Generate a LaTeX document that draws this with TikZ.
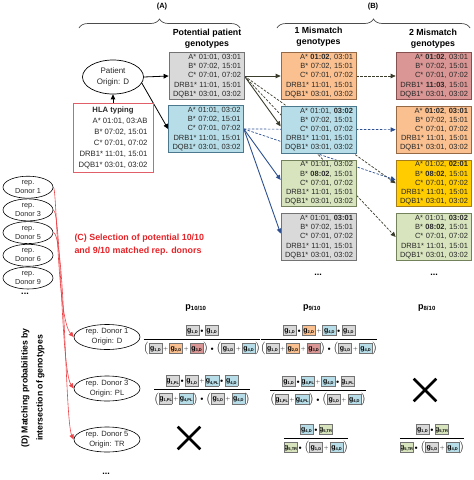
\documentclass[tikz,border=0pt]{standalone}
\usepackage{fontspec}
\setmainfont{Liberation Sans}
\usepackage{amsmath}
\usetikzlibrary{positioning, backgrounds, shapes.geometric, shapes.misc, arrows.meta, decorations.pathreplacing}

\definecolor{gfill}{RGB}{217,217,217}
\definecolor{gline}{RGB}{115,115,115}
\definecolor{ofill}{RGB}{250,192,143}
\definecolor{oline}{RGB}{150,105,70}
\definecolor{bfill}{RGB}{183,222,232}
\definecolor{bline}{RGB}{75,120,140}
\definecolor{nfill}{RGB}{215,228,189}
\definecolor{nline}{RGB}{115,130,90}
\definecolor{rfill}{RGB}{217,150,148}
\definecolor{rline}{RGB}{135,80,80}
\definecolor{yfill}{RGB}{255,204,0}
\definecolor{yline}{RGB}{165,125,25}
\definecolor{hlared}{RGB}{225,95,105}
\definecolor{selred}{RGB}{230,35,40}
\definecolor{darkarr}{RGB}{60,60,45}
\definecolor{bluearr}{RGB}{45,80,145}
\definecolor{txt}{RGB}{40,40,40}

\setlength{\fboxsep}{0.8pt}
\setlength{\fboxrule}{0.5pt}

\tikzset{
  genobox/.style={draw=#1line, fill=#1fill, line width=0.7pt, minimum width=75, minimum height=46,
    text width=69, align=right, inner sep=1.5pt, text=txt, font=\fontsize{7.5}{9.2}\selectfont},
  heading/.style={align=center, font=\bfseries\fontsize{8.8}{11}\selectfont},
  tag/.style={font=\bfseries\fontsize{7.5}{9}\selectfont},
  bracedraw/.style={decorate, decoration={brace, amplitude=9pt}, draw=black!70, line width=0.7pt},
  patient/.style={ellipse, draw, line width=0.7pt, minimum width=61, minimum height=34, inner sep=0pt,
    align=center, text=txt, font=\fontsize{8}{11}\selectfont},
  hlabox/.style={draw=hlared, line width=0.9pt, minimum width=80, minimum height=69, inner sep=0pt,
    text=txt, font=\fontsize{7.7}{11}\selectfont},
  donor/.style={ellipse, draw, line width=0.6pt, minimum width=50, minimum height=22, inner sep=0pt,
    align=center, text=txt, font=\fontsize{7.3}{9}\selectfont},
  repdonor/.style={ellipse, draw, line width=0.6pt, minimum width=66, minimum height=25, inner sep=0pt,
    align=center, text=txt, font=\fontsize{7.6}{10}\selectfont},
  seltext/.style={align=left, text=selred, font=\bfseries\fontsize{8.9}{13}\selectfont},
  dtext/.style={align=center, rotate=90, font=\bfseries\fontsize{8.7}{15}\selectfont},
  plabel/.style={font=\bfseries\fontsize{9}{10}\selectfont},
  formula/.style={anchor=base, inner sep=0pt, font=\fontsize{7}{8}\selectfont},
  crossmark/.style={cross out, draw, line width=2.6pt, minimum size=20pt, inner sep=0pt},
  moredots/.style={font=\bfseries\fontsize{9}{9}\selectfont},
  tip/.style={-{Triangle[length=5pt,width=4.5pt]}},
  darr/.style={tip, draw=darkarr, line width=0.9pt},
  dashdarr/.style={darr, line width=0.7pt, dash pattern=on 2.5pt off 1.5pt},
  barr/.style={tip, draw=bluearr, line width=0.9pt},
  dashbarr/.style={barr, line width=0.7pt, dash pattern=on 2.5pt off 1.5pt},
  redarr/.style={tip, draw=selred!85, line width=0.6pt}
}

\newcommand{\allel}[5]{A* #1\\B* #2\\C* #3\\DRB1* #4\\DQB1* #5}
\newcommand{\gb}[2]{\fcolorbox{gline}{#1}{\makebox[11pt]{\rule[-2.3pt]{0pt}{8.7pt}\bfseries g\raisebox{-1.2pt}{\fontsize{4}{4}\selectfont #2}}}}
\newcommand{\gplus}{\mskip2mu{\scriptstyle+}\mskip2mu}
\newcommand{\gdot}{\mskip2mu{\scriptstyle\bullet}\mskip2mu}
\newcommand{\gfrac}[2]{$\genfrac{}{}{0.9pt}{0}{#1}{#2}$}

\begin{document}
\begin{tikzpicture}[x=1pt, y=-1pt]
  \useasboundingbox (0,0) rectangle (474,480);

  % braces and column headings
  \draw[bracedraw] (79,28) -- (240,28);
  \draw[bracedraw] (277,28) -- (470,28);
  \node[tag] (labA) at (162,7) {(A)};
  \node[tag] (labB) at (373,7) {(B)};
  \node[heading] (hpat) at (207,38.5) {Potential patient\\genotypes};
  \node[heading] (hm1) at (318.5,37) {1 Mismatch\\genotypes};
  \node[heading] (hm2) at (433,38.5) {2 Mismatch\\genotypes};

  % patient and typing
  \node[patient] (pat) at (113,77) {Patient\\Origin: D};
  \node[hlabox] (hla) at (113,137.5) {\begin{tabular}{@{}r@{}}
      \multicolumn{1}{@{}c@{}}{\textbf{HLA typing}}\\
      A* 01:01, 03:AB\\ B* 07:02, 15:01\\ C* 07:01, 07:02\\
      DRB1* 11:01, 15:01\\ DQB1* 03:01, 03:02
    \end{tabular}};

  % potential patient genotypes
  \node[genobox=g] (pg1) at (206.5,76) {\allel{01:01, 03:01}{07:02, 15:01}{07:01, 07:02}{11:01, 15:01}{03:01, 03:02}};
  \node[genobox=b] (pb1) at (206,129) {\allel{01:01, 03:02}{07:02, 15:01}{07:01, 07:02}{11:01, 15:01}{03:01, 03:02}};

  % 1 mismatch
  \node[genobox=o] (m1o) at (318.5,76) {\allel{\textbf{01:02}, 03:01}{07:02, 15:01}{07:01, 07:02}{11:01, 15:01}{03:01, 03:02}};
  \node[genobox=b, below=6.5pt of m1o] (m1b) {\allel{01:01, \textbf{03:02}}{07:02, 15:01}{07:01, 07:02}{11:01, 15:01}{03:01, 03:02}};
  \node[genobox=n, below=6.5pt of m1b] (m1g) {\allel{01:01, 03:02}{\textbf{08:02}, 15:01}{07:01, 07:02}{11:01, 15:01}{03:01, 03:02}};
  \node[genobox=g, below=6.5pt of m1g] (m1y) {\allel{01:01, \textbf{03:01}}{07:02, 15:01}{07:01, 07:02}{11:01, 15:01}{03:01, 03:02}};

  % 2 mismatch
  \node[genobox=r] (m2r) at (433.5,76) {\allel{\textbf{01:02}, 03:01}{07:02, 15:01}{07:01, 07:02}{\textbf{11:03}, 15:01}{03:01, 03:02}};
  \node[genobox=o, below=6.5pt of m2r] (m2o) {\allel{\textbf{01:02}, \textbf{03:01}}{07:02, 15:01}{07:01, 07:02}{11:01, 15:01}{03:01, 03:02}};
  \node[genobox=y, below=6.5pt of m2o] (m2y) {\allel{01:02, \textbf{02:01}}{\textbf{08:02}, 15:01}{07:01, 07:02}{11:01, 15:01}{03:01, 03:02}};
  \node[genobox=n, below=6.5pt of m2y] (m2g) {\allel{01:01, \textbf{03:02}}{\textbf{08:02}, 15:01}{07:01, 07:02}{11:01, 15:01}{03:01, 03:02}};

  \node[moredots] (dm1) at (318,275) {...};
  \node[moredots] (dm2) at (434,275) {...};

  % connectors behind the boxes
  \begin{scope}[on background layer]
    \draw[tip, line width=0.8pt] (hla.north) -- (pat.south);
    \draw[tip, line width=0.8pt] (pat.east) -- (pg1.west);
    \draw[tip, line width=0.8pt] (pat.-12) -- (pb1.west);
    \draw[darr] (pg1.east) -- (m1o.west);
    \draw[darr] (pg1.east) -- (m1b.175);
    \draw[dashdarr] (pg1.east) -- (m2y.west);
    \draw[dashdarr] (pg1.east) -- (m2g.west);
    \draw[dashdarr] (m1o.east) -- (m2r.west);
    \draw[dashbarr] (pb1.east) -- (m2o.west);
    \draw[dashbarr] (pb1.east) -- (m2y.175);
    \draw[barr] (pb1.east) -- (m1g.175);
    \draw[barr] (pb1.east) -- (m1y.175);
  \end{scope}

  % representative donors
  \foreach \n [count=\i] in {1,3,5,6,9}
    \node[donor] (d\n) at (28,{164.5+22.7*\i}) {rep.\\Donor \n};
  \node[moredots] (ddots) at (25,294) {...};
  \node[seltext, anchor=west] (selc) at (71,244.5) {(C) Selection of potential 10/10\\and 9/10 matched rep. donors};

  \node[repdonor] (rd1) at (107,337) {rep. Donor 1\\Origin: D};
  \node[repdonor] (rd3) at (107,388.5) {rep. Donor 3\\Origin: PL};
  \node[repdonor] (rd5) at (107,439.5) {rep. Donor 5\\Origin: TR};
  \node[moredots] (rdots) at (106,474) {...};

  \draw[redarr] (d1.east) .. controls (57,187) and (57,318) .. (rd1.west);
  \draw[redarr] (d3.east) .. controls (61,210) and (61,370) .. (rd3.west);
  \draw[redarr] (d5.east) .. controls (65,233) and (65,421) .. (rd5.west);

  \node[dtext] (seld) at (33,388) {(D) Matching probabilities by\\intersection of genotypes};

  % matching probabilities
  \node[plabel] (p10) at (196,308) {p\textsubscript{10/10}};
  \node[plabel] (p9) at (312,308) {p\textsubscript{9/10}};
  \node[plabel] (p8) at (427,308) {p\textsubscript{8/10}};

  \node[formula] (f11) at (202,340.8) {\gfrac{\gb{gfill}{1,D}\gdot\gb{gfill}{1,D}}
    {\left(\gb{gfill}{1,D}\gplus\gb{ofill}{2,D}\gplus\gb{rfill}{3,D}\right)\gdot\left(\gb{gfill}{1,D}\gplus\gb{bfill}{4,D}\right)}};
  \node[formula] (f12) at (319,340.8) {\gfrac{\gb{gfill}{1,D}\gdot\gb{ofill}{2,D}\gplus\gb{bfill}{4,D}\gdot\gb{gfill}{1,D}}
    {\left(\gb{gfill}{1,D}\gplus\gb{ofill}{2,D}\gplus\gb{rfill}{3,D}\right)\gdot\left(\gb{gfill}{1,D}\gplus\gb{bfill}{4,D}\right)}};
  \node[formula] (f21) at (202,391.3) {\gfrac{\gb{gfill}{1,PL}\gdot\gb{gfill}{1,D}\gplus\gb{bfill}{4,PL}\gdot\gb{bfill}{4,D}}
    {\left(\gb{gfill}{1,PL}\gplus\gb{bfill}{4,PL}\right)\gdot\left(\gb{gfill}{1,D}\gplus\gb{bfill}{4,D}\right)}};
  \node[formula] (f22) at (318,391.8) {\gfrac{\gb{gfill}{1,D}\gdot\gb{bfill}{4,PL}\gplus\gb{bfill}{4,D}\gdot\gb{gfill}{1,PL}}
    {\left(\gb{gfill}{1,PL}\gplus\gb{bfill}{4,PL}\right)\gdot\left(\gb{gfill}{1,D}\gplus\gb{bfill}{4,D}\right)}};
  \node[formula] (f32) at (316,439.8) {\gfrac{\gb{bfill}{4,D}\gdot\gb{nfill}{5,TR}}
    {\gb{nfill}{5,TR}\gdot\left(\gb{gfill}{1,D}\gplus\gb{bfill}{4,D}\right)}};
  \node[formula] (f33) at (432,439.8) {\gfrac{\gb{gfill}{1,D}\gdot\gb{nfill}{5,TR}}
    {\gb{nfill}{5,TR}\gdot\left(\gb{gfill}{1,D}\gplus\gb{bfill}{4,D}\right)}};

  \node[crossmark] (x83) at (425,390) {};
  \node[crossmark] (x105) at (189,438) {};
\end{tikzpicture}
\end{document}
